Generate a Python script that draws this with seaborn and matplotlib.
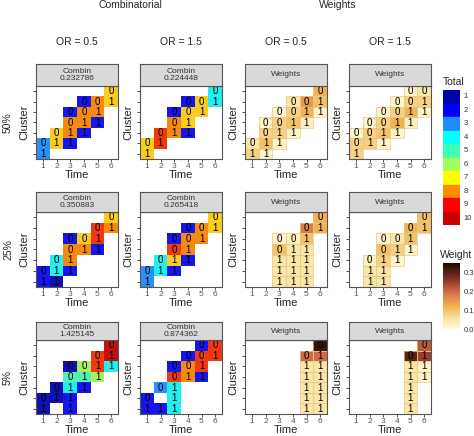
import numpy as np
import matplotlib
matplotlib.use("Agg")
import matplotlib.pyplot as plt
from matplotlib.colors import ListedColormap, LinearSegmentedColormap, BoundaryNorm
import seaborn as sns

sns.set_theme(style="white")
plt.rcParams['font.family'] = ['Liberation Sans', 'DejaVu Sans']

times = [1, 2, 3, 4, 5, 6]
row_names = ["50%", "25%", "5%"]
col_names = ["OR = 0.5", "OR = 1.5", "OR = 0.5", "OR = 1.5"]
strip_titles = [["Combin\n0.232786", "Combin\n0.224448", "Weights", "Weights"],
                ["Combin\n0.350883", "Combin\n0.265418", "Weights", "Weights"],
                ["Combin\n1.425145", "Combin\n0.874362", "Weights", "Weights"]]

# labels: rows listed from top cluster (7) to bottom cluster (1)
lab_A = [".....0", "...001", "..001.", "..011.", ".011..", "011...", "1....."]
tot_A = [".....7", "...287", "..288.", "..882.", ".782..", "372...", "3....."]
lab_B = [".....0", "...001", "..001.", "..01..", ".011..", "01....", "1....."]
tot_B = [".....4", "...274", "..277.", "..87..", ".982..", "79....", "7....."]
lab_E = [".....0", "....01", "..001.", "..011.", ".01...", "011...", "11...."]
tot_E = [".....7", "....98", "..279.", "..882.", ".48...", "242...", "21...."]
lab_F = [".....0", "...001", "..001.", "..01..", ".011..", "011...", "1....."]
tot_F = [".....7", "...287", "..288.", "..98..", ".472..", "342...", "3....."]
lab_I = [".....0", "....01", "..0011", "..011.", ".011..", "011...", "1.1..."]
tot_I = [".....A", "....9A", "..1694", "..556.", ".142..", "112...", "1.2..."]
lab_J = ["....00", "...001", "..001.", "..011.", ".01...", "0.1...", "111..."]
tot_J = ["....29", "...299", "..289.", "..982.", ".34...", "2.4...", "224..."]

lab_C = [".....0", "...001", "..0011", ".0011.", ".011..", "011...", "11...."]
w_C = [[0.12], [0.05, 0.15, 0.10], [0.02, 0.08, 0.12, 0.02], [0.02, 0.08, 0.10, 0.03],
       [0.08, 0.08, 0.02], [0.05, 0.10, 0.03], [0.08, 0.02]]
lab_D = ["....00", "...001", "..0011", ".0011.", "0011..", "011...", "1....."]
w_D = [[0.02, 0.05], [0.02, 0.08, 0.08], [0.02, 0.08, 0.12, 0.02], [0.02, 0.08, 0.12, 0.03],
       [0.02, 0.08, 0.10, 0.02], [0.08, 0.08, 0.02], [0.08]]
lab_G = [".....0", "....01", "..001.", "..011.", "..111.", "..111.", "..111."]
w_G = [[0.12], [0.18, 0.12], [0.02, 0.03, 0.10], [0.10, 0.05, 0.05],
       [0.05, 0.05, 0.05], [0.05, 0.05, 0.05], [0.05, 0.05, 0.05]]
lab_H = [".....0", "....01", "..001.", "..011.", ".011..", ".11...", ".11..."]
w_H = [[0.10], [0.12, 0.10], [0.02, 0.05, 0.10], [0.10, 0.08, 0.02],
       [0.03, 0.08, 0.02], [0.05, 0.05], [0.05, 0.05]]
lab_K = [".....0", "....01", "....11", "....11", "....11", "....11", "....11"]
w_K = [[0.33], [0.20, 0.20], [0.05, 0.05], [0.05, 0.05], [0.05, 0.05], [0.05, 0.05], [0.05, 0.05]]
lab_L = [".....0", "....01", "....11", "....11", "....1.", "....1.", "....1."]
w_L = [[0.22], [0.30, 0.25], [0.05, 0.02], [0.05, 0.02], [0.05], [0.05], [0.05]]

total_levels = list(range(1, 11))
total_colors = ["#0000A8", "#0000FF", "#1E8CFF", "#00FFFF", "#3CFFB4",
                "#A0FF5A", "#FFFF00", "#FF8C00", "#FF0000", "#C80000"]
panel_colors = ["#1010B0", "#1515EE", "#2A90F5", "#20F0F0", "#50F5B5",
                "#A8F060", "#F8CC20", "#F58A10", "#EE3A10", "#C01010"]
panel_cmap = ListedColormap(panel_colors)
total_norm = BoundaryNorm(np.arange(0.5, 11.5, 1), 10)
weight_cmap = LinearSegmentedColormap.from_list(
    "w", [(0.0, "#FFFBE0"), (0.15, "#FBE5A5"), (0.35, "#F0B050"), (0.55, "#D87048"),
          (0.75, "#8A3428"), (1.0, "#1A0A05")])

def combin_grid(lab, tot):
    labs = np.array([[c if c != '.' else '' for c in r] for r in lab])
    vals = np.array([[np.nan if c == '.' else (10 if c == 'A' else int(c)) for c in r] for r in tot], float)
    return labs, vals

def weight_grid(lab, w):
    labs = np.array([[c if c != '.' else '' for c in r] for r in lab])
    vals = np.full((7, 6), np.nan)
    for i, r in enumerate(lab):
        js = [j for j, c in enumerate(r) if c != '.']
        for j, v in zip(js, w[i]):
            vals[i, j] = v
    return labs, vals

panels = [[combin_grid(lab_A, tot_A), combin_grid(lab_B, tot_B), weight_grid(lab_C, w_C), weight_grid(lab_D, w_D)],
          [combin_grid(lab_E, tot_E), combin_grid(lab_F, tot_F), weight_grid(lab_G, w_G), weight_grid(lab_H, w_H)],
          [combin_grid(lab_I, tot_I), combin_grid(lab_J, tot_J), weight_grid(lab_K, w_K), weight_grid(lab_L, w_L)]]

W, H = 474, 436
fig = plt.figure(figsize=(W / 100, H / 100), dpi=100)
def ax_at(x0, y0, w, h):
    return fig.add_axes([x0 / W, 1 - (y0 + h) / H, w / W, h / H])

col_x = [36, 140, 245, 349]
pw = 82
rows_y = [(64, 86, 159), (192, 212, 287), (322, 340, 414)]

for r in range(3):
    st, pt, pb = rows_y[r]
    for c in range(4):
        labs, vals = panels[r][c]
        ax = ax_at(col_x[c], pt, pw, pb - pt)
        if c < 2:
            sns.heatmap(vals, ax=ax, cmap=panel_cmap, norm=total_norm, cbar=False,
                        annot=labs, fmt="", annot_kws={"size": 7, "color": "black"},
                        mask=np.isnan(vals))
        else:
            sns.heatmap(vals, ax=ax, cmap=weight_cmap, vmin=0, vmax=0.35, cbar=False,
                        annot=labs, fmt="", annot_kws={"size": 7, "color": "black"},
                        mask=np.isnan(vals), linewidths=0)
            ii, jj = np.where(~np.isnan(vals))
            for i, j in zip(ii, jj):
                ax.add_patch(plt.Rectangle((j, i), 1, 1, fill=False, edgecolor="#E2CC88", lw=0.5))
        ax.set_xticks(np.arange(6) + 0.5)
        ax.set_xticklabels(times, fontsize=6, color="#555555", rotation=0)
        ax.set_yticks(np.arange(7) + 0.5)
        ax.set_yticklabels([])
        ax.tick_params(axis="both", length=2, width=0.6, color="#333333", pad=1, left=True, bottom=True)
        ax.set_xlabel("Time", fontsize=8, labelpad=0)
        ax.set_ylabel("Cluster", fontsize=8, labelpad=2)
        for s in ax.spines.values():
            s.set_visible(True)
            s.set_color("#555555")
            s.set_linewidth(0.8)
        sax = ax_at(col_x[c], st, pw, pt - st)
        sax.set_facecolor("#D9D9D9")
        sax.set_xticks([]); sax.set_yticks([])
        for s in sax.spines.values():
            s.set_color("#555555"); s.set_linewidth(0.8)
        sax.text(0.5, 0.5, strip_titles[r][c], ha="center", va="center", fontsize=6,
                 color="#333333", transform=sax.transAxes, linespacing=1.0)
    fig.text(8 / W, 1 - ((pt + pb) / 2) / H, row_names[r], rotation=90, ha="center",
             va="center", fontsize=7.5)

for c in range(4):
    fig.text((col_x[c] + pw / 2) / W, 1 - 42 / H, col_names[c], ha="center", va="center", fontsize=7.5)
fig.text(130 / W, 1 - 5 / H, "Combinatorial", ha="center", va="center", fontsize=7.5)
fig.text(338 / W, 1 - 5 / H, "Weights", ha="center", va="center", fontsize=7.5)

# Total legend
fig.text(443 / W, 1 - 82 / H, "Total", ha="left", va="center", fontsize=7.5)
lax = ax_at(443, 90, 17, 135)
lax.set_xlim(0, 1); lax.set_ylim(10.5, 0.5)
for i, lv in enumerate(total_levels):
    lax.add_patch(plt.Rectangle((0, lv - 0.48), 1, 0.96, color=total_colors[i]))
    lax.text(1.2, lv, str(lv), ha="left", va="center", fontsize=5.5, color="#333333")
lax.axis("off")

# Weight colorbar
fig.text(440 / W, 1 - 255 / H, "Weight", ha="left", va="center", fontsize=7.5)
cax = ax_at(443, 263, 17, 66)
grad = np.linspace(0.35, 0, 100).reshape(-1, 1)
cax.imshow(grad, aspect="auto", cmap=weight_cmap, vmin=0, vmax=0.35, extent=[0, 1, 0, 0.35])
cax.set_xticks([])
cax.yaxis.tick_right()
cax.set_yticks([0.0, 0.1, 0.2, 0.3])
cax.set_yticklabels(["0.0", "0.1", "0.2", "0.3"], fontsize=5.5, color="#333333")
cax.tick_params(axis="y", length=2, color="white", pad=1)
for s in cax.spines.values():
    s.set_visible(False)

fig.savefig("out.png", dpi=100)
